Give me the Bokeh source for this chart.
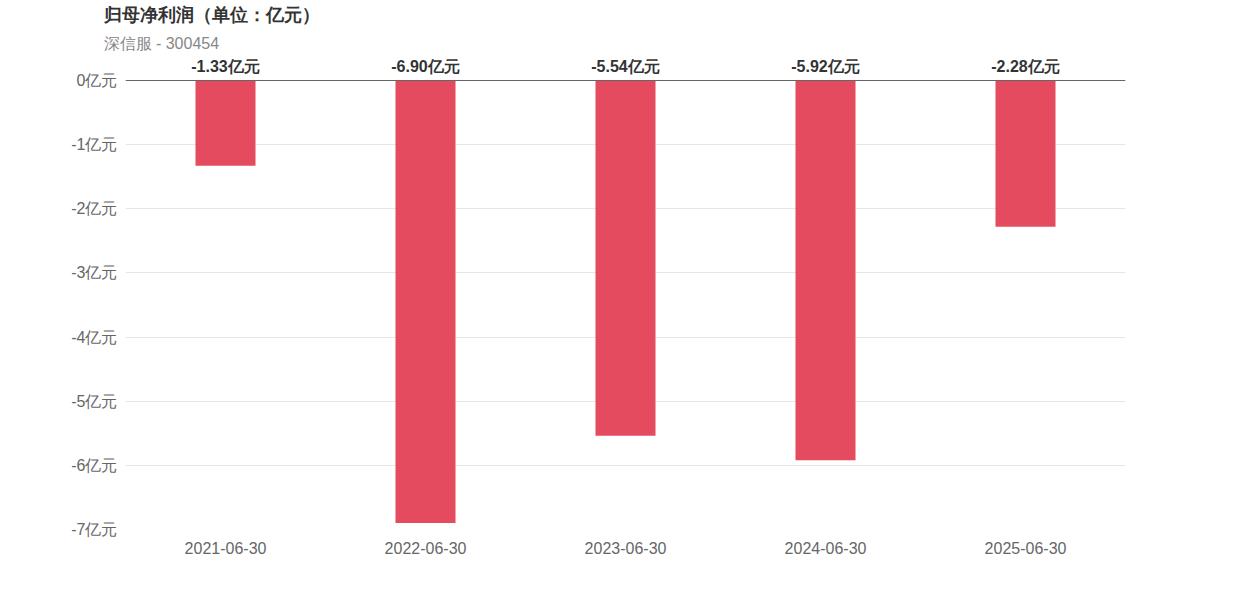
from bokeh.plotting import figure
from bokeh.models import Range1d, FactorRange, FixedTicker, Span, Title, ColumnDataSource
from bokeh.core.properties import value
from bokeh.embed import file_html
from bokeh.resources import INLINE

categories = ["2021-06-30", "2022-06-30", "2023-06-30", "2024-06-30", "2025-06-30"]
values = [-1.33, -6.90, -5.54, -5.92, -2.28]
labels = ["-1.33亿元", "-6.90亿元", "-5.54亿元", "-5.92亿元", "-2.28亿元"]
y_ticks = [0, -1, -2, -3, -4, -5, -6, -7]
title_text = "归母净利润（单位：亿元）"
subtitle_text = "深信服 - 300454"

FONT = "Liberation Sans"

p = figure(width=1230, height=580, output_backend="svg", toolbar_location=None,
           x_range=FactorRange(*categories, range_padding=0),
           y_range=Range1d(-7, 0.3586))
p.min_border_left = 125
p.min_border_right = 105
p.min_border_top = 57
p.min_border_bottom = 51
p.outline_line_color = None
p.background_fill_color = "white"
p.border_fill_color = "white"

src = ColumnDataSource(dict(x=categories, top=values, label=labels, zero=[0] * len(values)))
p.vbar(x="x", top="top", bottom=0, width=0.3, source=src, fill_color="#e54b5f", line_color=None)
p.text(x="x", y="zero", text="label", source=src, text_align="center", text_baseline="middle",
       y_offset=-14, text_font=value(FONT), text_font_style="bold", text_font_size="16px",
       text_color="#333333")

p.add_layout(Span(location=0, dimension="width", line_color="#666666", line_width=1))

p.yaxis.ticker = FixedTicker(ticks=y_ticks)
p.yaxis.major_label_overrides = {t: f"{t}亿元" for t in y_ticks}
p.yaxis.axis_line_color = None
p.yaxis.major_tick_line_color = None
p.yaxis.minor_tick_line_color = None
p.yaxis.major_label_text_font = FONT
p.yaxis.major_label_text_font_size = "16px"
p.yaxis.major_label_text_color = "#666666"
p.yaxis.major_label_standoff = 2

p.xaxis.axis_line_color = None
p.xaxis.major_tick_line_color = None
p.xaxis.major_label_text_font = FONT
p.xaxis.major_label_text_font_size = "16px"
p.xaxis.major_label_text_color = "#666666"
p.xaxis.major_label_standoff = 6

p.xgrid.grid_line_color = None
p.ygrid.ticker = FixedTicker(ticks=y_ticks[1:])
p.ygrid.grid_line_color = "#e6e6e6"

p.add_layout(Title(text=subtitle_text, align="left", offset=-22, standoff=11,
                   text_font=FONT, text_font_style="normal", text_font_size="16px",
                   text_color="#888888"), "above")
p.add_layout(Title(text=title_text, align="left", offset=-22, standoff=5,
                   text_font=FONT, text_font_style="bold", text_font_size="18px",
                   text_color="#333333"), "above")

open("out.html", "w").write(file_html(p, INLINE))
